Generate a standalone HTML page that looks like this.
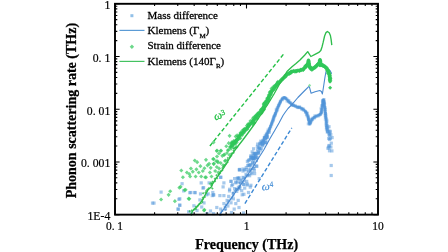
<!DOCTYPE html>
<html><head><meta charset="utf-8"><style>html,body{margin:0;padding:0;background:#fff;width:448px;height:252px;overflow:hidden}svg{display:block}</style></head>
<body><svg width="448" height="252" viewBox="0 0 448 252">
<g fill="#4e93d9" fill-opacity="0.5">
<rect x="159.5" y="190.5" width="3.2" height="3.2"/>
<rect x="152.4" y="201.5" width="3.2" height="3.2"/>
<rect x="150.9" y="201.5" width="3.2" height="3.2"/>
<rect x="177.3" y="197.7" width="3.2" height="3.2"/>
<rect x="176.5" y="207.5" width="3.2" height="3.2"/>
<rect x="178.1" y="203.6" width="3.2" height="3.2"/>
<rect x="188.2" y="191.1" width="3.2" height="3.2"/>
<rect x="193.5" y="191.1" width="3.2" height="3.2"/>
<rect x="198.9" y="192.3" width="3.2" height="3.2"/>
<rect x="201.3" y="186.4" width="3.2" height="3.2"/>
<rect x="206.6" y="192.3" width="3.2" height="3.2"/>
<rect x="212.0" y="193.5" width="3.2" height="3.2"/>
<rect x="198.3" y="198.3" width="3.2" height="3.2"/>
<rect x="202.4" y="201.3" width="3.2" height="3.2"/>
<rect x="200.1" y="205.4" width="3.2" height="3.2"/>
<rect x="192.3" y="204.2" width="3.2" height="3.2"/>
<rect x="187.0" y="210.2" width="3.2" height="3.2"/>
<rect x="205.4" y="212.0" width="3.2" height="3.2"/>
<rect x="212.0" y="212.0" width="3.2" height="3.2"/>
<rect x="180.5" y="182.1" width="3.2" height="3.2"/>
<rect x="182.1" y="189.3" width="3.2" height="3.2"/>
<rect x="189.3" y="190.9" width="3.2" height="3.2"/>
<rect x="193.2" y="190.9" width="3.2" height="3.2"/>
<rect x="199.6" y="181.3" width="3.2" height="3.2"/>
<rect x="202.0" y="186.1" width="3.2" height="3.2"/>
<rect x="207.5" y="181.3" width="3.2" height="3.2"/>
<rect x="178.2" y="197.2" width="3.2" height="3.2"/>
<rect x="178.2" y="203.6" width="3.2" height="3.2"/>
<rect x="176.6" y="207.5" width="3.2" height="3.2"/>
<rect x="210.7" y="194.0" width="3.2" height="3.2"/>
<rect x="205.1" y="193.2" width="3.2" height="3.2"/>
<rect x="190.1" y="211.5" width="3.2" height="3.2"/>
<rect x="219.1" y="175.7" width="3.2" height="3.2"/>
<rect x="222.3" y="181.3" width="3.2" height="3.2"/>
<rect x="221.5" y="185.3" width="3.2" height="3.2"/>
<rect x="229.4" y="179.7" width="3.2" height="3.2"/>
<rect x="231.0" y="182.9" width="3.2" height="3.2"/>
<rect x="234.2" y="180.5" width="3.2" height="3.2"/>
<rect x="236.6" y="176.6" width="3.2" height="3.2"/>
<rect x="239.0" y="179.0" width="3.2" height="3.2"/>
<rect x="241.4" y="175.8" width="3.2" height="3.2"/>
<rect x="238.2" y="185.3" width="3.2" height="3.2"/>
<rect x="242.1" y="182.9" width="3.2" height="3.2"/>
<rect x="235.8" y="187.7" width="3.2" height="3.2"/>
<rect x="227.9" y="189.3" width="3.2" height="3.2"/>
<rect x="211.2" y="190.9" width="3.2" height="3.2"/>
<rect x="212.0" y="193.2" width="3.2" height="3.2"/>
<rect x="218.3" y="194.0" width="3.2" height="3.2"/>
<rect x="222.3" y="194.0" width="3.2" height="3.2"/>
<rect x="227.1" y="194.8" width="3.2" height="3.2"/>
<rect x="231.8" y="197.2" width="3.2" height="3.2"/>
<rect x="240.6" y="193.2" width="3.2" height="3.2"/>
<rect x="246.9" y="190.9" width="3.2" height="3.2"/>
<rect x="229.4" y="201.2" width="3.2" height="3.2"/>
<rect x="234.2" y="202.0" width="3.2" height="3.2"/>
<rect x="236.6" y="198.8" width="3.2" height="3.2"/>
<rect x="222.3" y="202.0" width="3.2" height="3.2"/>
<rect x="215.2" y="205.9" width="3.2" height="3.2"/>
<rect x="223.9" y="206.7" width="3.2" height="3.2"/>
<rect x="226.3" y="204.4" width="3.2" height="3.2"/>
<rect x="219.1" y="207.5" width="3.2" height="3.2"/>
<rect x="232.6" y="207.5" width="3.2" height="3.2"/>
<rect x="237.4" y="205.9" width="3.2" height="3.2"/>
<rect x="249.3" y="183.7" width="3.2" height="3.2"/>
<rect x="225.5" y="198.8" width="3.2" height="3.2"/>
<rect x="249.3" y="154.3" width="3.2" height="3.2"/>
<rect x="246.9" y="159.0" width="3.2" height="3.2"/>
<rect x="246.1" y="163.8" width="3.2" height="3.2"/>
<rect x="248.5" y="163.0" width="3.2" height="3.2"/>
<rect x="238.2" y="167.8" width="3.2" height="3.2"/>
<rect x="241.4" y="169.4" width="3.2" height="3.2"/>
<rect x="244.5" y="167.8" width="3.2" height="3.2"/>
<rect x="235.8" y="176.5" width="3.2" height="3.2"/>
<rect x="219.1" y="175.7" width="3.2" height="3.2"/>
<rect x="237.6" y="168.2" width="3.2" height="3.2"/>
<rect x="241.5" y="167.4" width="3.2" height="3.2"/>
<rect x="244.7" y="165.9" width="3.2" height="3.2"/>
<rect x="247.1" y="163.5" width="3.2" height="3.2"/>
<rect x="249.5" y="154.7" width="3.2" height="3.2"/>
<rect x="251.9" y="157.9" width="3.2" height="3.2"/>
<rect x="254.2" y="151.6" width="3.2" height="3.2"/>
<rect x="256.6" y="150.0" width="3.2" height="3.2"/>
<rect x="259.0" y="148.4" width="3.2" height="3.2"/>
<rect x="251.1" y="161.1" width="3.2" height="3.2"/>
<rect x="248.7" y="167.4" width="3.2" height="3.2"/>
<rect x="249.5" y="172.2" width="3.2" height="3.2"/>
<rect x="245.5" y="173.8" width="3.2" height="3.2"/>
<rect x="242.3" y="176.2" width="3.2" height="3.2"/>
<rect x="237.6" y="176.2" width="3.2" height="3.2"/>
<rect x="236.0" y="180.1" width="3.2" height="3.2"/>
<rect x="239.2" y="181.7" width="3.2" height="3.2"/>
<rect x="245.5" y="182.5" width="3.2" height="3.2"/>
<rect x="243.1" y="186.5" width="3.2" height="3.2"/>
<rect x="236.8" y="185.7" width="3.2" height="3.2"/>
<rect x="252.7" y="169.0" width="3.2" height="3.2"/>
<rect x="255.0" y="164.3" width="3.2" height="3.2"/>
<rect x="247.6" y="158.0" width="3.2" height="3.2"/>
<rect x="249.6" y="163.6" width="3.2" height="3.2"/>
<rect x="229.9" y="210.9" width="3.2" height="3.2"/>
<rect x="241.9" y="211.4" width="3.2" height="3.2"/>
<rect x="208.9" y="209.4" width="3.2" height="3.2"/>
<rect x="195.4" y="208.9" width="3.2" height="3.2"/>
<rect x="329.6" y="163.9" width="3.2" height="3.2"/>
<rect x="329.6" y="173.9" width="3.2" height="3.2"/>
<rect x="245.8" y="159.8" width="3.2" height="3.2"/>
<rect x="248.0" y="164.1" width="3.2" height="3.2"/>
<rect x="250.8" y="161.3" width="3.2" height="3.2"/>
<rect x="252.3" y="167.0" width="3.2" height="3.2"/>
<rect x="250.1" y="171.3" width="3.2" height="3.2"/>
<rect x="247.3" y="168.4" width="3.2" height="3.2"/>
<rect x="243.0" y="168.4" width="3.2" height="3.2"/>
<rect x="238.0" y="168.4" width="3.2" height="3.2"/>
<rect x="244.4" y="172.7" width="3.2" height="3.2"/>
<rect x="248.0" y="174.1" width="3.2" height="3.2"/>
<rect x="253.0" y="172.0" width="3.2" height="3.2"/>
<rect x="255.1" y="164.8" width="3.2" height="3.2"/>
<rect x="236.5" y="177.0" width="3.2" height="3.2"/>
<rect x="233.0" y="177.0" width="3.2" height="3.2"/>
<rect x="229.4" y="179.8" width="3.2" height="3.2"/>
<rect x="234.4" y="181.3" width="3.2" height="3.2"/>
<rect x="240.1" y="178.4" width="3.2" height="3.2"/>
<rect x="245.1" y="179.8" width="3.2" height="3.2"/>
<rect x="242.3" y="182.7" width="3.2" height="3.2"/>
<rect x="245.8" y="183.4" width="3.2" height="3.2"/>
<rect x="230.1" y="184.1" width="3.2" height="3.2"/>
<rect x="228.0" y="187.7" width="3.2" height="3.2"/>
<rect x="233.0" y="187.0" width="3.2" height="3.2"/>
<rect x="238.0" y="187.0" width="3.2" height="3.2"/>
<rect x="240.1" y="189.1" width="3.2" height="3.2"/>
<rect x="235.1" y="189.8" width="3.2" height="3.2"/>
<rect x="231.5" y="192.0" width="3.2" height="3.2"/>
<rect x="242.3" y="192.7" width="3.2" height="3.2"/>
<rect x="248.7" y="185.5" width="3.2" height="3.2"/>
<rect x="257.6" y="177.0" width="3.2" height="3.2"/>
<rect x="257.2" y="151.1" width="3.2" height="3.2"/>
<rect x="249.6" y="156.2" width="3.2" height="3.2"/>
<rect x="250.7" y="156.8" width="3.2" height="3.2"/>
<rect x="258.1" y="146.9" width="3.2" height="3.2"/>
<rect x="257.6" y="146.4" width="3.2" height="3.2"/>
<rect x="250.6" y="150.3" width="3.2" height="3.2"/>
<rect x="255.8" y="144.8" width="3.2" height="3.2"/>
<rect x="252.3" y="156.4" width="3.2" height="3.2"/>
<rect x="254.0" y="155.2" width="3.2" height="3.2"/>
<rect x="264.3" y="137.8" width="3.2" height="3.2"/>
<rect x="259.1" y="142.2" width="3.2" height="3.2"/>
<rect x="252.8" y="157.0" width="3.2" height="3.2"/>
<rect x="260.0" y="140.5" width="3.2" height="3.2"/>
<rect x="258.4" y="142.9" width="3.2" height="3.2"/>
<rect x="262.7" y="136.1" width="3.2" height="3.2"/>
<rect x="256.1" y="142.5" width="3.2" height="3.2"/>
<rect x="261.0" y="142.0" width="3.2" height="3.2"/>
<rect x="249.2" y="156.2" width="3.2" height="3.2"/>
<rect x="252.2" y="154.3" width="3.2" height="3.2"/>
<rect x="261.3" y="138.8" width="3.2" height="3.2"/>
<rect x="263.5" y="136.5" width="3.2" height="3.2"/>
<rect x="258.2" y="141.7" width="3.2" height="3.2"/>
<rect x="265.5" y="135.3" width="3.2" height="3.2"/>
<rect x="263.4" y="141.2" width="3.2" height="3.2"/>
<rect x="263.9" y="140.8" width="3.2" height="3.2"/>
<rect x="252.7" y="151.9" width="3.2" height="3.2"/>
<rect x="249.5" y="158.0" width="3.2" height="3.2"/>
<rect x="255.6" y="156.0" width="3.2" height="3.2"/>
<rect x="252.5" y="156.1" width="3.2" height="3.2"/>
<rect x="265.8" y="135.5" width="3.2" height="3.2"/>
<rect x="261.6" y="142.1" width="3.2" height="3.2"/>
<rect x="263.9" y="136.3" width="3.2" height="3.2"/>
<rect x="259.7" y="146.7" width="3.2" height="3.2"/>
<rect x="253.5" y="155.1" width="3.2" height="3.2"/>
<rect x="251.5" y="152.3" width="3.2" height="3.2"/>
<rect x="256.7" y="151.3" width="3.2" height="3.2"/>
<rect x="252.0" y="147.2" width="3.2" height="3.2"/>
<rect x="259.2" y="139.6" width="3.2" height="3.2"/>
<rect x="264.6" y="141.0" width="3.2" height="3.2"/>
<rect x="264.9" y="135.8" width="3.2" height="3.2"/>
<rect x="256.0" y="148.1" width="3.2" height="3.2"/>
<rect x="261.1" y="141.4" width="3.2" height="3.2"/>
<rect x="254.7" y="153.7" width="3.2" height="3.2"/>
<rect x="252.5" y="157.0" width="3.2" height="3.2"/>
<rect x="251.7" y="155.9" width="3.2" height="3.2"/>
<rect x="263.7" y="134.3" width="3.2" height="3.2"/>
<rect x="253.3" y="152.5" width="3.2" height="3.2"/>
<rect x="256.2" y="152.0" width="3.2" height="3.2"/>
<rect x="257.1" y="145.9" width="3.2" height="3.2"/>
<rect x="251.1" y="156.4" width="3.2" height="3.2"/>
<rect x="263.8" y="136.2" width="3.2" height="3.2"/>
<rect x="264.8" y="132.6" width="3.2" height="3.2"/>
<rect x="261.2" y="144.0" width="3.2" height="3.2"/>
<rect x="267.5" y="130.6" width="3.2" height="3.2"/>
<rect x="253.8" y="151.9" width="3.2" height="3.2"/>
<rect x="327.1" y="144.5" width="3.2" height="3.2"/>
<rect x="327.5" y="133.0" width="3.2" height="3.2"/>
<rect x="328.6" y="130.2" width="3.2" height="3.2"/>
<rect x="326.3" y="146.6" width="3.2" height="3.2"/>
<rect x="329.3" y="145.4" width="3.2" height="3.2"/>
<rect x="326.3" y="130.3" width="3.2" height="3.2"/>
<rect x="328.0" y="137.9" width="3.2" height="3.2"/>
<rect x="327.4" y="125.1" width="3.2" height="3.2"/>
<rect x="327.6" y="131.7" width="3.2" height="3.2"/>
<rect x="330.3" y="149.3" width="3.2" height="3.2"/>
<rect x="330.5" y="136.0" width="3.2" height="3.2"/>
<rect x="327.9" y="149.2" width="3.2" height="3.2"/>
<rect x="328.0" y="133.9" width="3.2" height="3.2"/>
<rect x="328.2" y="129.5" width="3.2" height="3.2"/>
<rect x="326.2" y="129.7" width="3.2" height="3.2"/>
<rect x="327.4" y="146.3" width="3.2" height="3.2"/>
<rect x="327.1" y="136.9" width="3.2" height="3.2"/>
<rect x="326.0" y="126.6" width="3.2" height="3.2"/>
<rect x="329.7" y="141.6" width="3.2" height="3.2"/>
<rect x="327.7" y="143.9" width="3.2" height="3.2"/>
<rect x="328.7" y="136.8" width="3.2" height="3.2"/>
<rect x="329.2" y="133.0" width="3.2" height="3.2"/>
</g>
<polyline points="262.0,145.0 265.1,138.0 269.9,128.2 273.9,117.0 277.8,107.5 280.5,101.5 282.5,98.5 284.3,97.2 286.5,99.0 289.0,102.0 292.0,105.0 296.0,106.5 300.3,107.6 303.9,109.6 306.7,112.8 308.5,118.5 309.6,124.3 311.0,121.0 312.4,118.6 315.3,116.4 318.9,115.0 321.2,113.4 322.1,107.4 322.9,100.5 323.6,99.5 324.3,103.0 325.3,113.0 326.3,122.6 327.1,131.5" fill="none" stroke="#86b8e6" stroke-width="2.0" stroke-linejoin="round" stroke-linecap="round"/>
<g fill="#4e93d9" fill-opacity="0.34">
<rect x="261.0" y="143.6" width="2.9" height="2.9"/>
<rect x="260.8" y="143.0" width="2.9" height="2.9"/>
<rect x="261.1" y="142.2" width="2.9" height="2.9"/>
<rect x="260.6" y="142.0" width="2.9" height="2.9"/>
<rect x="261.2" y="141.2" width="2.9" height="2.9"/>
<rect x="261.3" y="140.7" width="2.9" height="2.9"/>
<rect x="262.1" y="140.1" width="2.9" height="2.9"/>
<rect x="262.0" y="139.6" width="2.9" height="2.9"/>
<rect x="262.4" y="139.8" width="2.9" height="2.9"/>
<rect x="262.2" y="138.6" width="2.9" height="2.9"/>
<rect x="263.0" y="137.2" width="2.9" height="2.9"/>
<rect x="262.7" y="137.7" width="2.9" height="2.9"/>
<rect x="263.0" y="136.9" width="2.9" height="2.9"/>
<rect x="263.6" y="136.0" width="2.9" height="2.9"/>
<rect x="263.6" y="135.7" width="2.9" height="2.9"/>
<rect x="264.8" y="135.1" width="2.9" height="2.9"/>
<rect x="265.2" y="134.1" width="2.9" height="2.9"/>
<rect x="264.8" y="134.7" width="2.9" height="2.9"/>
<rect x="265.8" y="133.4" width="2.9" height="2.9"/>
<rect x="265.5" y="133.3" width="2.9" height="2.9"/>
<rect x="265.4" y="132.6" width="2.9" height="2.9"/>
<rect x="265.9" y="132.2" width="2.9" height="2.9"/>
<rect x="265.8" y="130.9" width="2.9" height="2.9"/>
<rect x="266.6" y="130.8" width="2.9" height="2.9"/>
<rect x="266.5" y="129.9" width="2.9" height="2.9"/>
<rect x="267.4" y="130.5" width="2.9" height="2.9"/>
<rect x="267.5" y="129.3" width="2.9" height="2.9"/>
<rect x="267.8" y="128.7" width="2.9" height="2.9"/>
<rect x="266.5" y="128.4" width="2.9" height="2.9"/>
<rect x="268.1" y="127.5" width="2.9" height="2.9"/>
<rect x="267.8" y="127.4" width="2.9" height="2.9"/>
<rect x="268.4" y="126.9" width="2.9" height="2.9"/>
<rect x="268.4" y="126.6" width="2.9" height="2.9"/>
<rect x="269.4" y="125.6" width="2.9" height="2.9"/>
<rect x="269.0" y="125.0" width="2.9" height="2.9"/>
<rect x="269.0" y="124.8" width="2.9" height="2.9"/>
<rect x="269.4" y="123.8" width="2.9" height="2.9"/>
<rect x="270.4" y="123.2" width="2.9" height="2.9"/>
<rect x="270.1" y="122.6" width="2.9" height="2.9"/>
<rect x="270.1" y="122.2" width="2.9" height="2.9"/>
<rect x="270.4" y="121.2" width="2.9" height="2.9"/>
<rect x="270.8" y="121.3" width="2.9" height="2.9"/>
<rect x="271.4" y="120.0" width="2.9" height="2.9"/>
<rect x="270.9" y="120.0" width="2.9" height="2.9"/>
<rect x="271.6" y="119.0" width="2.9" height="2.9"/>
<rect x="271.3" y="118.5" width="2.9" height="2.9"/>
<rect x="272.1" y="118.3" width="2.9" height="2.9"/>
<rect x="271.6" y="117.6" width="2.9" height="2.9"/>
<rect x="272.5" y="116.8" width="2.9" height="2.9"/>
<rect x="272.2" y="116.2" width="2.9" height="2.9"/>
<rect x="272.4" y="115.7" width="2.9" height="2.9"/>
<rect x="272.8" y="114.9" width="2.9" height="2.9"/>
<rect x="272.5" y="115.1" width="2.9" height="2.9"/>
<rect x="273.3" y="114.0" width="2.9" height="2.9"/>
<rect x="273.6" y="114.0" width="2.9" height="2.9"/>
<rect x="273.5" y="113.2" width="2.9" height="2.9"/>
<rect x="273.8" y="112.6" width="2.9" height="2.9"/>
<rect x="274.0" y="112.3" width="2.9" height="2.9"/>
<rect x="273.9" y="112.0" width="2.9" height="2.9"/>
<rect x="274.3" y="111.3" width="2.9" height="2.9"/>
<rect x="274.8" y="110.6" width="2.9" height="2.9"/>
<rect x="275.2" y="109.7" width="2.9" height="2.9"/>
<rect x="275.7" y="109.2" width="2.9" height="2.9"/>
<rect x="275.1" y="108.5" width="2.9" height="2.9"/>
<rect x="274.6" y="108.2" width="2.9" height="2.9"/>
<rect x="276.3" y="107.9" width="2.9" height="2.9"/>
<rect x="275.6" y="107.1" width="2.9" height="2.9"/>
<rect x="276.4" y="106.0" width="2.9" height="2.9"/>
<rect x="275.9" y="105.8" width="2.9" height="2.9"/>
<rect x="277.1" y="105.2" width="2.9" height="2.9"/>
<rect x="277.3" y="104.2" width="2.9" height="2.9"/>
<rect x="276.9" y="103.8" width="2.9" height="2.9"/>
<rect x="277.4" y="103.7" width="2.9" height="2.9"/>
<rect x="277.8" y="103.2" width="2.9" height="2.9"/>
<rect x="277.9" y="102.2" width="2.9" height="2.9"/>
<rect x="278.3" y="102.1" width="2.9" height="2.9"/>
<rect x="278.9" y="100.7" width="2.9" height="2.9"/>
<rect x="278.5" y="100.6" width="2.9" height="2.9"/>
<rect x="279.0" y="100.6" width="2.9" height="2.9"/>
<rect x="279.0" y="99.8" width="2.9" height="2.9"/>
<rect x="279.3" y="99.4" width="2.9" height="2.9"/>
<rect x="280.9" y="98.5" width="2.9" height="2.9"/>
<rect x="280.0" y="98.2" width="2.9" height="2.9"/>
<rect x="280.9" y="97.7" width="2.9" height="2.9"/>
<rect x="280.9" y="97.3" width="2.9" height="2.9"/>
<rect x="281.0" y="97.2" width="2.9" height="2.9"/>
<rect x="281.6" y="96.5" width="2.9" height="2.9"/>
<rect x="282.3" y="96.1" width="2.9" height="2.9"/>
<rect x="282.8" y="96.0" width="2.9" height="2.9"/>
<rect x="283.2" y="96.2" width="2.9" height="2.9"/>
<rect x="284.1" y="96.5" width="2.9" height="2.9"/>
<rect x="284.3" y="97.4" width="2.9" height="2.9"/>
<rect x="284.0" y="97.1" width="2.9" height="2.9"/>
<rect x="284.8" y="97.1" width="2.9" height="2.9"/>
<rect x="285.8" y="97.8" width="2.9" height="2.9"/>
<rect x="285.4" y="99.6" width="2.9" height="2.9"/>
<rect x="286.7" y="99.5" width="2.9" height="2.9"/>
<rect x="286.6" y="99.4" width="2.9" height="2.9"/>
<rect x="287.5" y="99.2" width="2.9" height="2.9"/>
<rect x="287.0" y="99.9" width="2.9" height="2.9"/>
<rect x="287.9" y="100.6" width="2.9" height="2.9"/>
<rect x="287.8" y="101.2" width="2.9" height="2.9"/>
<rect x="289.1" y="101.1" width="2.9" height="2.9"/>
<rect x="289.4" y="101.7" width="2.9" height="2.9"/>
<rect x="290.0" y="102.2" width="2.9" height="2.9"/>
<rect x="289.9" y="102.7" width="2.9" height="2.9"/>
<rect x="290.6" y="103.5" width="2.9" height="2.9"/>
<rect x="290.8" y="103.8" width="2.9" height="2.9"/>
<rect x="291.8" y="103.5" width="2.9" height="2.9"/>
<rect x="291.7" y="103.7" width="2.9" height="2.9"/>
<rect x="292.4" y="103.9" width="2.9" height="2.9"/>
<rect x="293.9" y="104.6" width="2.9" height="2.9"/>
<rect x="293.7" y="104.3" width="2.9" height="2.9"/>
<rect x="293.7" y="104.8" width="2.9" height="2.9"/>
<rect x="295.5" y="105.4" width="2.9" height="2.9"/>
<rect x="295.5" y="105.4" width="2.9" height="2.9"/>
<rect x="296.0" y="106.1" width="2.9" height="2.9"/>
<rect x="296.8" y="106.2" width="2.9" height="2.9"/>
<rect x="297.7" y="105.7" width="2.9" height="2.9"/>
<rect x="297.5" y="106.2" width="2.9" height="2.9"/>
<rect x="298.1" y="105.4" width="2.9" height="2.9"/>
<rect x="298.5" y="105.8" width="2.9" height="2.9"/>
<rect x="299.7" y="106.6" width="2.9" height="2.9"/>
<rect x="300.0" y="107.5" width="2.9" height="2.9"/>
<rect x="300.4" y="107.6" width="2.9" height="2.9"/>
<rect x="301.2" y="107.4" width="2.9" height="2.9"/>
<rect x="301.5" y="108.3" width="2.9" height="2.9"/>
<rect x="301.9" y="107.4" width="2.9" height="2.9"/>
<rect x="302.5" y="108.8" width="2.9" height="2.9"/>
<rect x="302.6" y="108.9" width="2.9" height="2.9"/>
<rect x="304.0" y="109.8" width="2.9" height="2.9"/>
<rect x="304.1" y="110.7" width="2.9" height="2.9"/>
<rect x="304.3" y="110.1" width="2.9" height="2.9"/>
<rect x="303.9" y="110.8" width="2.9" height="2.9"/>
<rect x="305.4" y="111.0" width="2.9" height="2.9"/>
<rect x="305.3" y="111.8" width="2.9" height="2.9"/>
<rect x="305.8" y="112.0" width="2.9" height="2.9"/>
<rect x="305.5" y="112.6" width="2.9" height="2.9"/>
<rect x="304.9" y="113.1" width="2.9" height="2.9"/>
<rect x="306.5" y="114.4" width="2.9" height="2.9"/>
<rect x="305.4" y="114.4" width="2.9" height="2.9"/>
<rect x="306.3" y="114.7" width="2.9" height="2.9"/>
<rect x="307.0" y="115.3" width="2.9" height="2.9"/>
<rect x="306.8" y="116.2" width="2.9" height="2.9"/>
<rect x="306.5" y="116.7" width="2.9" height="2.9"/>
<rect x="307.0" y="117.5" width="2.9" height="2.9"/>
<rect x="307.0" y="118.2" width="2.9" height="2.9"/>
<rect x="307.3" y="118.5" width="2.9" height="2.9"/>
<rect x="307.4" y="118.3" width="2.9" height="2.9"/>
<rect x="308.2" y="120.3" width="2.9" height="2.9"/>
<rect x="307.5" y="119.4" width="2.9" height="2.9"/>
<rect x="307.7" y="121.2" width="2.9" height="2.9"/>
<rect x="306.7" y="122.4" width="2.9" height="2.9"/>
<rect x="307.7" y="121.8" width="2.9" height="2.9"/>
<rect x="307.8" y="122.8" width="2.9" height="2.9"/>
<rect x="308.5" y="122.5" width="2.9" height="2.9"/>
<rect x="308.7" y="121.7" width="2.9" height="2.9"/>
<rect x="309.1" y="121.3" width="2.9" height="2.9"/>
<rect x="309.0" y="121.3" width="2.9" height="2.9"/>
<rect x="309.4" y="120.6" width="2.9" height="2.9"/>
<rect x="310.3" y="119.5" width="2.9" height="2.9"/>
<rect x="310.0" y="118.7" width="2.9" height="2.9"/>
<rect x="310.9" y="118.2" width="2.9" height="2.9"/>
<rect x="309.8" y="117.9" width="2.9" height="2.9"/>
<rect x="311.3" y="117.8" width="2.9" height="2.9"/>
<rect x="310.4" y="117.3" width="2.9" height="2.9"/>
<rect x="311.3" y="116.5" width="2.9" height="2.9"/>
<rect x="312.8" y="116.7" width="2.9" height="2.9"/>
<rect x="312.8" y="116.3" width="2.9" height="2.9"/>
<rect x="312.7" y="115.9" width="2.9" height="2.9"/>
<rect x="313.3" y="114.2" width="2.9" height="2.9"/>
<rect x="313.8" y="115.5" width="2.9" height="2.9"/>
<rect x="314.3" y="115.2" width="2.9" height="2.9"/>
<rect x="314.8" y="114.6" width="2.9" height="2.9"/>
<rect x="315.7" y="114.5" width="2.9" height="2.9"/>
<rect x="316.5" y="113.8" width="2.9" height="2.9"/>
<rect x="316.9" y="114.7" width="2.9" height="2.9"/>
<rect x="317.7" y="113.6" width="2.9" height="2.9"/>
<rect x="317.9" y="113.5" width="2.9" height="2.9"/>
<rect x="318.6" y="113.2" width="2.9" height="2.9"/>
<rect x="319.0" y="112.8" width="2.9" height="2.9"/>
<rect x="319.2" y="112.8" width="2.9" height="2.9"/>
<rect x="320.3" y="111.5" width="2.9" height="2.9"/>
<rect x="319.5" y="111.6" width="2.9" height="2.9"/>
<rect x="319.5" y="110.7" width="2.9" height="2.9"/>
<rect x="319.9" y="110.3" width="2.9" height="2.9"/>
<rect x="319.9" y="110.6" width="2.9" height="2.9"/>
<rect x="320.5" y="109.3" width="2.9" height="2.9"/>
<rect x="319.7" y="107.8" width="2.9" height="2.9"/>
<rect x="320.4" y="108.1" width="2.9" height="2.9"/>
<rect x="320.5" y="107.6" width="2.9" height="2.9"/>
<rect x="319.6" y="106.9" width="2.9" height="2.9"/>
<rect x="321.1" y="105.3" width="2.9" height="2.9"/>
<rect x="320.8" y="105.4" width="2.9" height="2.9"/>
<rect x="320.6" y="104.0" width="2.9" height="2.9"/>
<rect x="320.3" y="104.3" width="2.9" height="2.9"/>
<rect x="321.3" y="103.6" width="2.9" height="2.9"/>
<rect x="321.7" y="102.7" width="2.9" height="2.9"/>
<rect x="321.7" y="101.5" width="2.9" height="2.9"/>
<rect x="321.1" y="102.0" width="2.9" height="2.9"/>
<rect x="321.5" y="101.6" width="2.9" height="2.9"/>
<rect x="320.9" y="99.7" width="2.9" height="2.9"/>
<rect x="321.2" y="99.4" width="2.9" height="2.9"/>
<rect x="321.5" y="99.0" width="2.9" height="2.9"/>
<rect x="321.5" y="98.8" width="2.9" height="2.9"/>
<rect x="322.0" y="98.1" width="2.9" height="2.9"/>
<rect x="322.7" y="98.0" width="2.9" height="2.9"/>
<rect x="322.2" y="99.1" width="2.9" height="2.9"/>
<rect x="322.4" y="100.0" width="2.9" height="2.9"/>
<rect x="322.5" y="99.9" width="2.9" height="2.9"/>
<rect x="323.1" y="100.9" width="2.9" height="2.9"/>
<rect x="322.4" y="101.0" width="2.9" height="2.9"/>
<rect x="323.0" y="102.4" width="2.9" height="2.9"/>
<rect x="323.3" y="102.5" width="2.9" height="2.9"/>
<rect x="322.0" y="103.3" width="2.9" height="2.9"/>
<rect x="322.5" y="103.0" width="2.9" height="2.9"/>
<rect x="322.8" y="104.3" width="2.9" height="2.9"/>
<rect x="323.2" y="105.9" width="2.9" height="2.9"/>
<rect x="323.1" y="105.1" width="2.9" height="2.9"/>
<rect x="323.8" y="106.1" width="2.9" height="2.9"/>
<rect x="323.2" y="106.3" width="2.9" height="2.9"/>
<rect x="323.4" y="107.8" width="2.9" height="2.9"/>
<rect x="323.7" y="107.7" width="2.9" height="2.9"/>
<rect x="323.9" y="108.5" width="2.9" height="2.9"/>
<rect x="323.1" y="109.3" width="2.9" height="2.9"/>
<rect x="323.9" y="110.3" width="2.9" height="2.9"/>
<rect x="323.7" y="109.8" width="2.9" height="2.9"/>
<rect x="324.1" y="111.9" width="2.9" height="2.9"/>
<rect x="323.6" y="112.1" width="2.9" height="2.9"/>
<rect x="323.9" y="112.3" width="2.9" height="2.9"/>
<rect x="324.0" y="112.3" width="2.9" height="2.9"/>
<rect x="324.5" y="113.1" width="2.9" height="2.9"/>
<rect x="324.2" y="114.1" width="2.9" height="2.9"/>
<rect x="323.6" y="114.7" width="2.9" height="2.9"/>
<rect x="324.4" y="115.0" width="2.9" height="2.9"/>
<rect x="324.1" y="115.8" width="2.9" height="2.9"/>
<rect x="324.6" y="116.2" width="2.9" height="2.9"/>
<rect x="324.5" y="116.9" width="2.9" height="2.9"/>
<rect x="323.8" y="118.0" width="2.9" height="2.9"/>
<rect x="325.0" y="117.6" width="2.9" height="2.9"/>
<rect x="325.5" y="118.6" width="2.9" height="2.9"/>
<rect x="324.5" y="119.5" width="2.9" height="2.9"/>
<rect x="325.3" y="119.6" width="2.9" height="2.9"/>
<rect x="325.4" y="120.6" width="2.9" height="2.9"/>
<rect x="324.6" y="121.3" width="2.9" height="2.9"/>
<rect x="324.8" y="121.9" width="2.9" height="2.9"/>
<rect x="325.3" y="122.2" width="2.9" height="2.9"/>
<rect x="324.4" y="123.6" width="2.9" height="2.9"/>
<rect x="325.8" y="124.2" width="2.9" height="2.9"/>
<rect x="325.2" y="124.4" width="2.9" height="2.9"/>
<rect x="325.5" y="124.0" width="2.9" height="2.9"/>
<rect x="325.1" y="125.3" width="2.9" height="2.9"/>
<rect x="324.9" y="125.9" width="2.9" height="2.9"/>
<rect x="325.6" y="126.3" width="2.9" height="2.9"/>
<rect x="324.8" y="127.7" width="2.9" height="2.9"/>
<rect x="325.8" y="127.7" width="2.9" height="2.9"/>
<rect x="325.7" y="127.6" width="2.9" height="2.9"/>
<rect x="325.6" y="128.9" width="2.9" height="2.9"/>
<rect x="326.4" y="129.8" width="2.9" height="2.9"/>
<rect x="325.6" y="130.7" width="2.9" height="2.9"/>
</g>
<polyline points="219.8,214.6 232.5,196.5 244.7,179.0 252.0,168.5 258.0,159.0 264.0,149.5 270.0,138.5 275.0,130.0 279.0,123.0 283.0,115.5 285.4,112.0 288.0,108.5 291.9,104.6 297.9,97.5 303.8,91.5 309.2,86.2 311.1,93.3 315.1,91.7 319.8,90.5 321.4,91.5 322.4,94.0 323.8,85.0 325.0,77.0 326.0,71.5 327.5,69.5 330.0,70.5 331.7,73.8" fill="none" stroke="#4a8ad0" stroke-width="1.1" stroke-linejoin="round"/>
<g fill="#3f86d0" fill-opacity="0.6">
<rect x="219.2" y="213.8" width="2.2" height="2.2"/>
<rect x="219.7" y="211.4" width="2.2" height="2.2"/>
<rect x="221.1" y="209.6" width="2.2" height="2.2"/>
<rect x="224.3" y="208.8" width="2.2" height="2.2"/>
<rect x="223.7" y="205.7" width="2.2" height="2.2"/>
<rect x="225.0" y="203.8" width="2.2" height="2.2"/>
<rect x="226.6" y="202.0" width="2.2" height="2.2"/>
<rect x="227.5" y="199.8" width="2.2" height="2.2"/>
<rect x="229.4" y="198.3" width="2.2" height="2.2"/>
<rect x="230.8" y="196.4" width="2.2" height="2.2"/>
<rect x="232.1" y="194.5" width="2.2" height="2.2"/>
<rect x="232.0" y="191.7" width="2.2" height="2.2"/>
<rect x="233.7" y="190.0" width="2.2" height="2.2"/>
<rect x="234.9" y="188.0" width="2.2" height="2.2"/>
<rect x="237.8" y="187.1" width="2.2" height="2.2"/>
<rect x="238.8" y="185.0" width="2.2" height="2.2"/>
<rect x="238.5" y="182.0" width="2.2" height="2.2"/>
<rect x="241.6" y="181.2" width="2.2" height="2.2"/>
<rect x="243.3" y="179.6" width="2.2" height="2.2"/>
<rect x="243.9" y="177.2" width="2.2" height="2.2"/>
<rect x="245.4" y="175.4" width="2.2" height="2.2"/>
<rect x="247.4" y="173.9" width="2.2" height="2.2"/>
<rect x="246.6" y="170.6" width="2.2" height="2.2"/>
<rect x="249.4" y="169.7" width="2.2" height="2.2"/>
<rect x="251.1" y="168.0" width="2.2" height="2.2"/>
<rect x="253.0" y="166.4" width="2.2" height="2.2"/>
<rect x="253.1" y="163.7" width="2.2" height="2.2"/>
<rect x="253.2" y="161.1" width="2.2" height="2.2"/>
<rect x="255.8" y="159.9" width="2.2" height="2.2"/>
<rect x="256.0" y="157.4" width="2.2" height="2.2"/>
</g>
<line x1="244.9" y1="203.6" x2="291.8" y2="127.9" stroke="#3b88d4" stroke-width="1.4" stroke-dasharray="4 2.3"/>
<g fill="#3ccc66" fill-opacity="0.75">
<path d="M170.2 189.2l2.05 2.05l-2.05 2.05l-2.05 -2.05z"/>
<path d="M168.6 192.8l2.05 2.05l-2.05 2.05l-2.05 -2.05z"/>
<path d="M161.1 197.5l2.05 2.05l-2.05 2.05l-2.05 -2.05z"/>
<path d="M174.9 199.1l2.05 2.05l-2.05 2.05l-2.05 -2.05z"/>
<path d="M179.4 185.6l2.05 2.05l-2.05 2.05l-2.05 -2.05z"/>
<path d="M181.3 168.4l2.05 2.05l-2.05 2.05l-2.05 -2.05z"/>
<path d="M182.9 175.2l2.05 2.05l-2.05 2.05l-2.05 -2.05z"/>
<path d="M186.9 170.4l2.05 2.05l-2.05 2.05l-2.05 -2.05z"/>
<path d="M189.3 172.0l2.05 2.05l-2.05 2.05l-2.05 -2.05z"/>
<path d="M190.9 166.5l2.05 2.05l-2.05 2.05l-2.05 -2.05z"/>
<path d="M192.8 169.6l2.05 2.05l-2.05 2.05l-2.05 -2.05z"/>
<path d="M194.8 158.5l2.05 2.05l-2.05 2.05l-2.05 -2.05z"/>
<path d="M197.2 160.1l2.05 2.05l-2.05 2.05l-2.05 -2.05z"/>
<path d="M198.8 170.4l2.05 2.05l-2.05 2.05l-2.05 -2.05z"/>
<path d="M196.4 167.3l2.05 2.05l-2.05 2.05l-2.05 -2.05z"/>
<path d="M200.4 164.1l2.05 2.05l-2.05 2.05l-2.05 -2.05z"/>
<path d="M202.8 168.9l2.05 2.05l-2.05 2.05l-2.05 -2.05z"/>
<path d="M204.4 166.2l2.05 2.05l-2.05 2.05l-2.05 -2.05z"/>
<path d="M206.0 157.8l2.05 2.05l-2.05 2.05l-2.05 -2.05z"/>
<path d="M207.5 163.3l2.05 2.05l-2.05 2.05l-2.05 -2.05z"/>
<path d="M209.1 161.8l2.05 2.05l-2.05 2.05l-2.05 -2.05z"/>
<path d="M210.7 165.8l2.05 2.05l-2.05 2.05l-2.05 -2.05z"/>
<path d="M213.1 156.9l2.05 2.05l-2.05 2.05l-2.05 -2.05z"/>
<path d="M213.9 161.8l2.05 2.05l-2.05 2.05l-2.05 -2.05z"/>
<path d="M209.9 170.4l2.05 2.05l-2.05 2.05l-2.05 -2.05z"/>
<path d="M201.2 174.4l2.05 2.05l-2.05 2.05l-2.05 -2.05z"/>
<path d="M205.2 175.2l2.05 2.05l-2.05 2.05l-2.05 -2.05z"/>
<path d="M211.5 174.4l2.05 2.05l-2.05 2.05l-2.05 -2.05z"/>
<path d="M190.1 174.5l2.05 2.05l-2.05 2.05l-2.05 -2.05z"/>
<path d="M195.6 174.5l2.05 2.05l-2.05 2.05l-2.05 -2.05z"/>
<path d="M206.0 175.3l2.05 2.05l-2.05 2.05l-2.05 -2.05z"/>
<path d="M180.6 184.8l2.05 2.05l-2.05 2.05l-2.05 -2.05z"/>
<path d="M184.5 188.0l2.05 2.05l-2.05 2.05l-2.05 -2.05z"/>
<path d="M189.3 196.8l2.05 2.05l-2.05 2.05l-2.05 -2.05z"/>
<path d="M204.4 207.8l2.05 2.05l-2.05 2.05l-2.05 -2.05z"/>
<path d="M210.7 181.6l2.05 2.05l-2.05 2.05l-2.05 -2.05z"/>
<path d="M188.6 196.6l2.05 2.05l-2.05 2.05l-2.05 -2.05z"/>
<path d="M185.6 187.8l2.05 2.05l-2.05 2.05l-2.05 -2.05z"/>
<path d="M204.0 208.5l2.05 2.05l-2.05 2.05l-2.05 -2.05z"/>
<path d="M213.6 140.3l2.05 2.05l-2.05 2.05l-2.05 -2.05z"/>
<path d="M216.8 149.0l2.05 2.05l-2.05 2.05l-2.05 -2.05z"/>
<path d="M220.7 149.0l2.05 2.05l-2.05 2.05l-2.05 -2.05z"/>
<path d="M223.9 153.0l2.05 2.05l-2.05 2.05l-2.05 -2.05z"/>
<path d="M227.9 148.2l2.05 2.05l-2.05 2.05l-2.05 -2.05z"/>
<path d="M229.5 153.0l2.05 2.05l-2.05 2.05l-2.05 -2.05z"/>
<path d="M232.6 142.8l2.05 2.05l-2.05 2.05l-2.05 -2.05z"/>
<path d="M235.0 140.3l2.05 2.05l-2.05 2.05l-2.05 -2.05z"/>
<path d="M231.8 140.3l2.05 2.05l-2.05 2.05l-2.05 -2.05z"/>
<path d="M236.6 145.0l2.05 2.05l-2.05 2.05l-2.05 -2.05z"/>
<path d="M231.0 146.6l2.05 2.05l-2.05 2.05l-2.05 -2.05z"/>
<path d="M213.6 156.9l2.05 2.05l-2.05 2.05l-2.05 -2.05z"/>
<path d="M217.6 159.3l2.05 2.05l-2.05 2.05l-2.05 -2.05z"/>
<path d="M213.6 161.8l2.05 2.05l-2.05 2.05l-2.05 -2.05z"/>
<path d="M216.8 164.9l2.05 2.05l-2.05 2.05l-2.05 -2.05z"/>
<path d="M220.7 160.9l2.05 2.05l-2.05 2.05l-2.05 -2.05z"/>
<path d="M225.5 158.5l2.05 2.05l-2.05 2.05l-2.05 -2.05z"/>
<path d="M219.1 166.5l2.05 2.05l-2.05 2.05l-2.05 -2.05z"/>
<path d="M215.2 168.9l2.05 2.05l-2.05 2.05l-2.05 -2.05z"/>
<path d="M218.3 170.4l2.05 2.05l-2.05 2.05l-2.05 -2.05z"/>
<path d="M222.3 153.8l2.05 2.05l-2.05 2.05l-2.05 -2.05z"/>
<path d="M226.3 144.2l2.05 2.05l-2.05 2.05l-2.05 -2.05z"/>
<path d="M228.7 141.1l2.05 2.05l-2.05 2.05l-2.05 -2.05z"/>
<path d="M223.1 163.3l2.05 2.05l-2.05 2.05l-2.05 -2.05z"/>
<path d="M235.0 140.4l2.05 2.05l-2.05 2.05l-2.05 -2.05z"/>
<path d="M232.0 140.9l2.05 2.05l-2.05 2.05l-2.05 -2.05z"/>
<path d="M236.5 138.4l2.05 2.05l-2.05 2.05l-2.05 -2.05z"/>
<path d="M233.5 145.4l2.05 2.05l-2.05 2.05l-2.05 -2.05z"/>
<path d="M228.5 147.9l2.05 2.05l-2.05 2.05l-2.05 -2.05z"/>
<path d="M221.0 148.4l2.05 2.05l-2.05 2.05l-2.05 -2.05z"/>
<path d="M217.0 148.4l2.05 2.05l-2.05 2.05l-2.05 -2.05z"/>
<path d="M224.5 152.4l2.05 2.05l-2.05 2.05l-2.05 -2.05z"/>
<path d="M227.0 150.9l2.05 2.05l-2.05 2.05l-2.05 -2.05z"/>
<path d="M219.0 151.4l2.05 2.05l-2.05 2.05l-2.05 -2.05z"/>
<path d="M217.0 154.4l2.05 2.05l-2.05 2.05l-2.05 -2.05z"/>
<path d="M225.0 158.9l2.05 2.05l-2.05 2.05l-2.05 -2.05z"/>
<path d="M216.0 158.9l2.05 2.05l-2.05 2.05l-2.05 -2.05z"/>
<path d="M218.0 160.4l2.05 2.05l-2.05 2.05l-2.05 -2.05z"/>
<path d="M229.6 133.8l2.05 2.05l-2.05 2.05l-2.05 -2.05z"/>
</g>
<g fill="#14b238" fill-opacity="0.75">
<path d="M191.3 213.5l1.25 1.25l-1.25 1.25l-1.25 -1.25z"/>
<path d="M189.6 210.0l1.25 1.25l-1.25 1.25l-1.25 -1.25z"/>
<path d="M191.7 209.2l1.25 1.25l-1.25 1.25l-1.25 -1.25z"/>
<path d="M193.9 208.5l1.25 1.25l-1.25 1.25l-1.25 -1.25z"/>
<path d="M195.9 207.7l1.25 1.25l-1.25 1.25l-1.25 -1.25z"/>
<path d="M196.0 205.4l1.25 1.25l-1.25 1.25l-1.25 -1.25z"/>
<path d="M197.8 204.5l1.25 1.25l-1.25 1.25l-1.25 -1.25z"/>
<path d="M199.1 203.1l1.25 1.25l-1.25 1.25l-1.25 -1.25z"/>
<path d="M200.8 202.0l1.25 1.25l-1.25 1.25l-1.25 -1.25z"/>
<path d="M202.4 200.8l1.25 1.25l-1.25 1.25l-1.25 -1.25z"/>
<path d="M202.4 198.5l1.25 1.25l-1.25 1.25l-1.25 -1.25z"/>
<path d="M202.8 196.5l1.25 1.25l-1.25 1.25l-1.25 -1.25z"/>
<path d="M204.8 195.7l1.25 1.25l-1.25 1.25l-1.25 -1.25z"/>
<path d="M203.1 192.0l1.25 1.25l-1.25 1.25l-1.25 -1.25z"/>
<path d="M205.5 191.5l1.25 1.25l-1.25 1.25l-1.25 -1.25z"/>
<path d="M206.2 189.7l1.25 1.25l-1.25 1.25l-1.25 -1.25z"/>
<path d="M207.4 188.2l1.25 1.25l-1.25 1.25l-1.25 -1.25z"/>
<path d="M208.9 187.0l1.25 1.25l-1.25 1.25l-1.25 -1.25z"/>
<path d="M212.4 187.3l1.25 1.25l-1.25 1.25l-1.25 -1.25z"/>
<path d="M211.6 184.5l1.25 1.25l-1.25 1.25l-1.25 -1.25z"/>
<path d="M211.6 182.2l1.25 1.25l-1.25 1.25l-1.25 -1.25z"/>
<path d="M212.5 180.5l1.25 1.25l-1.25 1.25l-1.25 -1.25z"/>
<path d="M215.0 180.0l1.25 1.25l-1.25 1.25l-1.25 -1.25z"/>
<path d="M214.9 177.6l1.25 1.25l-1.25 1.25l-1.25 -1.25z"/>
<path d="M217.1 176.9l1.25 1.25l-1.25 1.25l-1.25 -1.25z"/>
<path d="M216.5 174.1l1.25 1.25l-1.25 1.25l-1.25 -1.25z"/>
<path d="M218.6 173.3l1.25 1.25l-1.25 1.25l-1.25 -1.25z"/>
<path d="M220.0 172.0l1.25 1.25l-1.25 1.25l-1.25 -1.25z"/>
<path d="M220.5 170.0l1.25 1.25l-1.25 1.25l-1.25 -1.25z"/>
<path d="M222.3 169.1l1.25 1.25l-1.25 1.25l-1.25 -1.25z"/>
<path d="M222.4 166.7l1.25 1.25l-1.25 1.25l-1.25 -1.25z"/>
<path d="M223.6 165.3l1.25 1.25l-1.25 1.25l-1.25 -1.25z"/>
<path d="M224.6 163.7l1.25 1.25l-1.25 1.25l-1.25 -1.25z"/>
<path d="M226.1 162.5l1.25 1.25l-1.25 1.25l-1.25 -1.25z"/>
<path d="M227.5 161.1l1.25 1.25l-1.25 1.25l-1.25 -1.25z"/>
<path d="M227.5 158.8l1.25 1.25l-1.25 1.25l-1.25 -1.25z"/>
<path d="M227.9 156.8l1.25 1.25l-1.25 1.25l-1.25 -1.25z"/>
<path d="M230.0 156.0l1.25 1.25l-1.25 1.25l-1.25 -1.25z"/>
<path d="M231.3 154.6l1.25 1.25l-1.25 1.25l-1.25 -1.25z"/>
<path d="M231.3 152.2l1.25 1.25l-1.25 1.25l-1.25 -1.25z"/>
<path d="M233.6 151.6l1.25 1.25l-1.25 1.25l-1.25 -1.25z"/>
<path d="M233.6 149.2l1.25 1.25l-1.25 1.25l-1.25 -1.25z"/>
<path d="M234.2 147.3l1.25 1.25l-1.25 1.25l-1.25 -1.25z"/>
<path d="M236.0 146.3l1.25 1.25l-1.25 1.25l-1.25 -1.25z"/>
</g>
<polyline points="231.0,146.5 237.0,139.0 243.0,132.0 248.0,126.5 252.3,121.5 256.3,116.8 260.2,111.8 264.5,105.0 268.0,98.5 270.7,93.5 273.2,89.5 277.0,84.0 282.5,79.0 287.0,74.5 292.0,71.5 296.0,71.0 300.0,70.5 303.5,69.0 305.5,67.5 307.3,64.0 308.4,63.0 309.6,66.8 311.8,69.5 315.6,67.0 318.0,64.5 319.8,63.5 321.5,64.8 323.5,66.0 326.0,67.5 328.2,70.5 329.3,75.0 330.0,81.5" fill="none" stroke="#4ccd6c" stroke-width="2.6" stroke-linejoin="round" stroke-linecap="round"/>
<g fill="#30c85a" fill-opacity="0.72">
<path d="M230.5 145.1l2 2l-2 2l-2 -2z"/>
<path d="M229.9 145.1l2 2l-2 2l-2 -2z"/>
<path d="M232.3 144.0l2 2l-2 2l-2 -2z"/>
<path d="M231.9 142.9l2 2l-2 2l-2 -2z"/>
<path d="M232.4 143.1l2 2l-2 2l-2 -2z"/>
<path d="M231.4 142.5l2 2l-2 2l-2 -2z"/>
<path d="M235.2 142.1l2 2l-2 2l-2 -2z"/>
<path d="M234.0 141.9l2 2l-2 2l-2 -2z"/>
<path d="M233.8 141.8l2 2l-2 2l-2 -2z"/>
<path d="M231.7 141.3l2 2l-2 2l-2 -2z"/>
<path d="M233.1 141.1l2 2l-2 2l-2 -2z"/>
<path d="M232.7 141.0l2 2l-2 2l-2 -2z"/>
<path d="M233.6 139.1l2 2l-2 2l-2 -2z"/>
<path d="M235.8 138.9l2 2l-2 2l-2 -2z"/>
<path d="M236.7 140.4l2 2l-2 2l-2 -2z"/>
<path d="M234.9 140.0l2 2l-2 2l-2 -2z"/>
<path d="M234.3 139.6l2 2l-2 2l-2 -2z"/>
<path d="M236.2 138.9l2 2l-2 2l-2 -2z"/>
<path d="M236.2 138.4l2 2l-2 2l-2 -2z"/>
<path d="M237.7 137.0l2 2l-2 2l-2 -2z"/>
<path d="M236.2 137.9l2 2l-2 2l-2 -2z"/>
<path d="M238.5 136.9l2 2l-2 2l-2 -2z"/>
<path d="M237.6 137.9l2 2l-2 2l-2 -2z"/>
<path d="M235.6 134.4l2 2l-2 2l-2 -2z"/>
<path d="M239.1 136.3l2 2l-2 2l-2 -2z"/>
<path d="M239.3 134.2l2 2l-2 2l-2 -2z"/>
<path d="M238.9 135.0l2 2l-2 2l-2 -2z"/>
<path d="M238.7 135.1l2 2l-2 2l-2 -2z"/>
<path d="M240.4 136.2l2 2l-2 2l-2 -2z"/>
<path d="M237.1 133.3l2 2l-2 2l-2 -2z"/>
<path d="M238.1 134.8l2 2l-2 2l-2 -2z"/>
<path d="M239.2 133.6l2 2l-2 2l-2 -2z"/>
<path d="M240.9 131.3l2 2l-2 2l-2 -2z"/>
<path d="M242.0 133.3l2 2l-2 2l-2 -2z"/>
<path d="M240.4 132.0l2 2l-2 2l-2 -2z"/>
<path d="M240.9 132.3l2 2l-2 2l-2 -2z"/>
<path d="M241.9 132.2l2 2l-2 2l-2 -2z"/>
<path d="M240.5 130.7l2 2l-2 2l-2 -2z"/>
<path d="M242.3 131.0l2 2l-2 2l-2 -2z"/>
<path d="M241.7 131.5l2 2l-2 2l-2 -2z"/>
<path d="M243.2 130.8l2 2l-2 2l-2 -2z"/>
<path d="M243.7 131.1l2 2l-2 2l-2 -2z"/>
<path d="M243.0 129.4l2 2l-2 2l-2 -2z"/>
<path d="M244.7 129.6l2 2l-2 2l-2 -2z"/>
<path d="M242.4 128.5l2 2l-2 2l-2 -2z"/>
<path d="M245.0 128.7l2 2l-2 2l-2 -2z"/>
<path d="M244.3 127.5l2 2l-2 2l-2 -2z"/>
<path d="M244.8 128.4l2 2l-2 2l-2 -2z"/>
<path d="M246.3 127.3l2 2l-2 2l-2 -2z"/>
<path d="M244.6 126.8l2 2l-2 2l-2 -2z"/>
<path d="M243.9 127.5l2 2l-2 2l-2 -2z"/>
<path d="M247.4 126.4l2 2l-2 2l-2 -2z"/>
<path d="M247.2 127.2l2 2l-2 2l-2 -2z"/>
<path d="M246.9 125.8l2 2l-2 2l-2 -2z"/>
<path d="M248.2 125.0l2 2l-2 2l-2 -2z"/>
<path d="M248.0 124.4l2 2l-2 2l-2 -2z"/>
<path d="M248.8 124.2l2 2l-2 2l-2 -2z"/>
<path d="M248.2 124.5l2 2l-2 2l-2 -2z"/>
<path d="M246.8 123.7l2 2l-2 2l-2 -2z"/>
<path d="M249.1 123.5l2 2l-2 2l-2 -2z"/>
<path d="M248.2 122.8l2 2l-2 2l-2 -2z"/>
<path d="M248.6 123.0l2 2l-2 2l-2 -2z"/>
<path d="M249.3 123.5l2 2l-2 2l-2 -2z"/>
<path d="M250.4 122.1l2 2l-2 2l-2 -2z"/>
<path d="M248.1 122.0l2 2l-2 2l-2 -2z"/>
<path d="M251.3 121.5l2 2l-2 2l-2 -2z"/>
<path d="M252.8 122.4l2 2l-2 2l-2 -2z"/>
<path d="M252.5 120.7l2 2l-2 2l-2 -2z"/>
<path d="M254.0 121.1l2 2l-2 2l-2 -2z"/>
<path d="M249.8 121.2l2 2l-2 2l-2 -2z"/>
<path d="M250.4 118.9l2 2l-2 2l-2 -2z"/>
<path d="M253.5 120.5l2 2l-2 2l-2 -2z"/>
<path d="M252.8 119.8l2 2l-2 2l-2 -2z"/>
<path d="M254.2 117.6l2 2l-2 2l-2 -2z"/>
<path d="M253.6 118.9l2 2l-2 2l-2 -2z"/>
<path d="M252.4 118.6l2 2l-2 2l-2 -2z"/>
<path d="M253.4 117.9l2 2l-2 2l-2 -2z"/>
<path d="M254.2 118.5l2 2l-2 2l-2 -2z"/>
<path d="M254.7 116.9l2 2l-2 2l-2 -2z"/>
<path d="M252.9 116.2l2 2l-2 2l-2 -2z"/>
<path d="M257.3 116.6l2 2l-2 2l-2 -2z"/>
<path d="M256.5 116.6l2 2l-2 2l-2 -2z"/>
<path d="M254.0 115.3l2 2l-2 2l-2 -2z"/>
<path d="M255.5 115.9l2 2l-2 2l-2 -2z"/>
<path d="M255.1 114.5l2 2l-2 2l-2 -2z"/>
<path d="M255.8 113.8l2 2l-2 2l-2 -2z"/>
<path d="M256.6 114.2l2 2l-2 2l-2 -2z"/>
<path d="M256.1 113.2l2 2l-2 2l-2 -2z"/>
<path d="M257.6 114.6l2 2l-2 2l-2 -2z"/>
<path d="M257.9 112.3l2 2l-2 2l-2 -2z"/>
<path d="M258.5 113.4l2 2l-2 2l-2 -2z"/>
<path d="M258.7 112.5l2 2l-2 2l-2 -2z"/>
<path d="M258.0 112.1l2 2l-2 2l-2 -2z"/>
<path d="M257.5 111.9l2 2l-2 2l-2 -2z"/>
<path d="M260.7 111.5l2 2l-2 2l-2 -2z"/>
<path d="M261.1 111.4l2 2l-2 2l-2 -2z"/>
<path d="M259.9 109.6l2 2l-2 2l-2 -2z"/>
<path d="M261.3 110.4l2 2l-2 2l-2 -2z"/>
<path d="M258.1 111.0l2 2l-2 2l-2 -2z"/>
<path d="M262.0 110.4l2 2l-2 2l-2 -2z"/>
<path d="M262.7 108.9l2 2l-2 2l-2 -2z"/>
<path d="M261.3 108.1l2 2l-2 2l-2 -2z"/>
<path d="M262.6 108.1l2 2l-2 2l-2 -2z"/>
<path d="M264.0 107.4l2 2l-2 2l-2 -2z"/>
<path d="M262.8 108.5l2 2l-2 2l-2 -2z"/>
<path d="M262.4 106.9l2 2l-2 2l-2 -2z"/>
<path d="M261.0 107.6l2 2l-2 2l-2 -2z"/>
<path d="M263.8 107.5l2 2l-2 2l-2 -2z"/>
<path d="M262.4 107.1l2 2l-2 2l-2 -2z"/>
<path d="M263.8 106.1l2 2l-2 2l-2 -2z"/>
<path d="M263.9 104.8l2 2l-2 2l-2 -2z"/>
<path d="M263.3 105.5l2 2l-2 2l-2 -2z"/>
<path d="M263.6 104.4l2 2l-2 2l-2 -2z"/>
<path d="M264.2 104.3l2 2l-2 2l-2 -2z"/>
<path d="M265.9 103.1l2 2l-2 2l-2 -2z"/>
<path d="M265.0 102.8l2 2l-2 2l-2 -2z"/>
<path d="M264.8 102.4l2 2l-2 2l-2 -2z"/>
<path d="M263.6 102.1l2 2l-2 2l-2 -2z"/>
<path d="M263.9 102.7l2 2l-2 2l-2 -2z"/>
<path d="M264.2 101.2l2 2l-2 2l-2 -2z"/>
<path d="M265.9 100.9l2 2l-2 2l-2 -2z"/>
<path d="M267.0 100.6l2 2l-2 2l-2 -2z"/>
<path d="M264.7 100.8l2 2l-2 2l-2 -2z"/>
<path d="M266.0 101.5l2 2l-2 2l-2 -2z"/>
<path d="M265.7 99.2l2 2l-2 2l-2 -2z"/>
<path d="M266.7 98.4l2 2l-2 2l-2 -2z"/>
<path d="M267.5 99.4l2 2l-2 2l-2 -2z"/>
<path d="M268.7 98.5l2 2l-2 2l-2 -2z"/>
<path d="M267.3 98.6l2 2l-2 2l-2 -2z"/>
<path d="M268.7 97.3l2 2l-2 2l-2 -2z"/>
<path d="M267.3 96.6l2 2l-2 2l-2 -2z"/>
<path d="M268.2 96.6l2 2l-2 2l-2 -2z"/>
<path d="M268.9 96.8l2 2l-2 2l-2 -2z"/>
<path d="M267.4 96.0l2 2l-2 2l-2 -2z"/>
<path d="M269.0 95.2l2 2l-2 2l-2 -2z"/>
<path d="M269.0 95.7l2 2l-2 2l-2 -2z"/>
<path d="M269.1 94.5l2 2l-2 2l-2 -2z"/>
<path d="M269.0 94.3l2 2l-2 2l-2 -2z"/>
<path d="M269.1 94.0l2 2l-2 2l-2 -2z"/>
<path d="M268.7 92.9l2 2l-2 2l-2 -2z"/>
<path d="M270.3 93.6l2 2l-2 2l-2 -2z"/>
<path d="M269.7 92.5l2 2l-2 2l-2 -2z"/>
<path d="M271.0 91.9l2 2l-2 2l-2 -2z"/>
<path d="M270.8 91.9l2 2l-2 2l-2 -2z"/>
<path d="M269.7 90.4l2 2l-2 2l-2 -2z"/>
<path d="M271.3 90.3l2 2l-2 2l-2 -2z"/>
<path d="M271.3 90.6l2 2l-2 2l-2 -2z"/>
<path d="M270.9 89.5l2 2l-2 2l-2 -2z"/>
<path d="M271.1 90.3l2 2l-2 2l-2 -2z"/>
<path d="M270.1 89.7l2 2l-2 2l-2 -2z"/>
<path d="M272.2 88.5l2 2l-2 2l-2 -2z"/>
<path d="M272.8 88.4l2 2l-2 2l-2 -2z"/>
<path d="M271.9 88.0l2 2l-2 2l-2 -2z"/>
<path d="M273.1 87.9l2 2l-2 2l-2 -2z"/>
<path d="M273.3 87.3l2 2l-2 2l-2 -2z"/>
<path d="M271.5 86.6l2 2l-2 2l-2 -2z"/>
<path d="M274.2 86.9l2 2l-2 2l-2 -2z"/>
<path d="M273.3 85.8l2 2l-2 2l-2 -2z"/>
<path d="M273.3 85.1l2 2l-2 2l-2 -2z"/>
<path d="M275.0 85.9l2 2l-2 2l-2 -2z"/>
<path d="M274.8 85.2l2 2l-2 2l-2 -2z"/>
<path d="M276.4 84.1l2 2l-2 2l-2 -2z"/>
<path d="M275.4 84.2l2 2l-2 2l-2 -2z"/>
<path d="M276.5 83.2l2 2l-2 2l-2 -2z"/>
<path d="M274.5 83.7l2 2l-2 2l-2 -2z"/>
<path d="M275.6 83.3l2 2l-2 2l-2 -2z"/>
<path d="M276.8 82.9l2 2l-2 2l-2 -2z"/>
<path d="M277.2 82.5l2 2l-2 2l-2 -2z"/>
<path d="M277.0 81.5l2 2l-2 2l-2 -2z"/>
<path d="M277.8 81.3l2 2l-2 2l-2 -2z"/>
<path d="M277.6 81.8l2 2l-2 2l-2 -2z"/>
<path d="M277.1 81.3l2 2l-2 2l-2 -2z"/>
<path d="M277.9 80.7l2 2l-2 2l-2 -2z"/>
<path d="M277.8 79.8l2 2l-2 2l-2 -2z"/>
<path d="M279.3 80.8l2 2l-2 2l-2 -2z"/>
<path d="M279.8 79.9l2 2l-2 2l-2 -2z"/>
<path d="M279.8 80.1l2 2l-2 2l-2 -2z"/>
<path d="M280.9 79.0l2 2l-2 2l-2 -2z"/>
<path d="M279.9 79.5l2 2l-2 2l-2 -2z"/>
<path d="M280.6 78.8l2 2l-2 2l-2 -2z"/>
<path d="M281.8 78.0l2 2l-2 2l-2 -2z"/>
<path d="M281.2 77.5l2 2l-2 2l-2 -2z"/>
<path d="M282.4 77.6l2 2l-2 2l-2 -2z"/>
<path d="M282.6 76.9l2 2l-2 2l-2 -2z"/>
<path d="M282.8 76.7l2 2l-2 2l-2 -2z"/>
<path d="M282.7 76.3l2 2l-2 2l-2 -2z"/>
<path d="M283.0 76.6l2 2l-2 2l-2 -2z"/>
<path d="M283.3 75.9l2 2l-2 2l-2 -2z"/>
<path d="M284.0 75.6l2 2l-2 2l-2 -2z"/>
<path d="M284.4 75.4l2 2l-2 2l-2 -2z"/>
<path d="M284.9 74.9l2 2l-2 2l-2 -2z"/>
<path d="M284.9 74.8l2 2l-2 2l-2 -2z"/>
<path d="M285.9 74.5l2 2l-2 2l-2 -2z"/>
<path d="M284.9 73.7l2 2l-2 2l-2 -2z"/>
<path d="M285.7 73.6l2 2l-2 2l-2 -2z"/>
<path d="M285.6 73.2l2 2l-2 2l-2 -2z"/>
<path d="M286.8 72.5l2 2l-2 2l-2 -2z"/>
<path d="M286.9 72.7l2 2l-2 2l-2 -2z"/>
<path d="M287.9 71.9l2 2l-2 2l-2 -2z"/>
<path d="M287.7 72.2l2 2l-2 2l-2 -2z"/>
<path d="M287.9 72.1l2 2l-2 2l-2 -2z"/>
<path d="M289.3 71.9l2 2l-2 2l-2 -2z"/>
<path d="M289.0 71.1l2 2l-2 2l-2 -2z"/>
<path d="M289.4 70.8l2 2l-2 2l-2 -2z"/>
<path d="M289.4 71.2l2 2l-2 2l-2 -2z"/>
<path d="M290.6 71.1l2 2l-2 2l-2 -2z"/>
<path d="M290.4 70.8l2 2l-2 2l-2 -2z"/>
<path d="M290.6 70.3l2 2l-2 2l-2 -2z"/>
<path d="M291.0 70.3l2 2l-2 2l-2 -2z"/>
<path d="M291.3 69.5l2 2l-2 2l-2 -2z"/>
<path d="M291.2 70.4l2 2l-2 2l-2 -2z"/>
<path d="M291.2 69.4l2 2l-2 2l-2 -2z"/>
<path d="M292.6 69.4l2 2l-2 2l-2 -2z"/>
<path d="M292.7 69.5l2 2l-2 2l-2 -2z"/>
<path d="M293.7 69.0l2 2l-2 2l-2 -2z"/>
<path d="M293.9 68.8l2 2l-2 2l-2 -2z"/>
<path d="M294.8 69.8l2 2l-2 2l-2 -2z"/>
<path d="M295.9 69.4l2 2l-2 2l-2 -2z"/>
<path d="M295.5 69.1l2 2l-2 2l-2 -2z"/>
<path d="M296.2 69.5l2 2l-2 2l-2 -2z"/>
<path d="M296.5 68.9l2 2l-2 2l-2 -2z"/>
<path d="M296.2 68.9l2 2l-2 2l-2 -2z"/>
<path d="M297.4 68.6l2 2l-2 2l-2 -2z"/>
<path d="M297.3 68.8l2 2l-2 2l-2 -2z"/>
<path d="M298.5 68.5l2 2l-2 2l-2 -2z"/>
<path d="M299.1 68.6l2 2l-2 2l-2 -2z"/>
<path d="M299.4 69.1l2 2l-2 2l-2 -2z"/>
<path d="M299.4 68.5l2 2l-2 2l-2 -2z"/>
<path d="M299.9 68.4l2 2l-2 2l-2 -2z"/>
<path d="M300.7 67.8l2 2l-2 2l-2 -2z"/>
<path d="M301.1 67.6l2 2l-2 2l-2 -2z"/>
<path d="M301.0 68.2l2 2l-2 2l-2 -2z"/>
<path d="M300.9 68.2l2 2l-2 2l-2 -2z"/>
<path d="M303.2 67.9l2 2l-2 2l-2 -2z"/>
<path d="M303.0 67.4l2 2l-2 2l-2 -2z"/>
<path d="M303.0 67.9l2 2l-2 2l-2 -2z"/>
<path d="M303.0 67.0l2 2l-2 2l-2 -2z"/>
<path d="M304.2 66.6l2 2l-2 2l-2 -2z"/>
<path d="M303.6 66.5l2 2l-2 2l-2 -2z"/>
<path d="M304.6 65.6l2 2l-2 2l-2 -2z"/>
<path d="M304.7 65.6l2 2l-2 2l-2 -2z"/>
<path d="M305.2 65.8l2 2l-2 2l-2 -2z"/>
<path d="M306.1 64.8l2 2l-2 2l-2 -2z"/>
<path d="M305.8 64.6l2 2l-2 2l-2 -2z"/>
<path d="M305.2 64.6l2 2l-2 2l-2 -2z"/>
<path d="M306.0 63.9l2 2l-2 2l-2 -2z"/>
<path d="M305.4 63.8l2 2l-2 2l-2 -2z"/>
<path d="M306.7 63.4l2 2l-2 2l-2 -2z"/>
<path d="M306.6 63.3l2 2l-2 2l-2 -2z"/>
<path d="M307.3 62.2l2 2l-2 2l-2 -2z"/>
<path d="M307.6 62.2l2 2l-2 2l-2 -2z"/>
<path d="M307.4 62.0l2 2l-2 2l-2 -2z"/>
<path d="M308.3 61.6l2 2l-2 2l-2 -2z"/>
<path d="M308.9 61.9l2 2l-2 2l-2 -2z"/>
<path d="M308.5 61.3l2 2l-2 2l-2 -2z"/>
<path d="M308.9 61.8l2 2l-2 2l-2 -2z"/>
<path d="M307.6 62.9l2 2l-2 2l-2 -2z"/>
<path d="M309.2 62.2l2 2l-2 2l-2 -2z"/>
<path d="M308.8 63.3l2 2l-2 2l-2 -2z"/>
<path d="M309.1 63.5l2 2l-2 2l-2 -2z"/>
<path d="M309.5 64.4l2 2l-2 2l-2 -2z"/>
<path d="M310.0 64.6l2 2l-2 2l-2 -2z"/>
<path d="M309.9 64.4l2 2l-2 2l-2 -2z"/>
<path d="M309.2 65.3l2 2l-2 2l-2 -2z"/>
<path d="M310.0 65.7l2 2l-2 2l-2 -2z"/>
<path d="M310.1 65.8l2 2l-2 2l-2 -2z"/>
<path d="M310.8 65.6l2 2l-2 2l-2 -2z"/>
<path d="M310.5 66.9l2 2l-2 2l-2 -2z"/>
<path d="M311.4 66.7l2 2l-2 2l-2 -2z"/>
<path d="M311.9 68.0l2 2l-2 2l-2 -2z"/>
<path d="M312.8 66.9l2 2l-2 2l-2 -2z"/>
<path d="M312.2 66.4l2 2l-2 2l-2 -2z"/>
<path d="M312.5 66.4l2 2l-2 2l-2 -2z"/>
<path d="M312.8 66.6l2 2l-2 2l-2 -2z"/>
<path d="M313.5 66.2l2 2l-2 2l-2 -2z"/>
<path d="M313.2 66.3l2 2l-2 2l-2 -2z"/>
<path d="M314.3 65.3l2 2l-2 2l-2 -2z"/>
<path d="M314.8 65.9l2 2l-2 2l-2 -2z"/>
<path d="M314.5 65.4l2 2l-2 2l-2 -2z"/>
<path d="M314.9 65.3l2 2l-2 2l-2 -2z"/>
<path d="M316.2 64.6l2 2l-2 2l-2 -2z"/>
<path d="M315.7 63.9l2 2l-2 2l-2 -2z"/>
<path d="M316.1 64.2l2 2l-2 2l-2 -2z"/>
<path d="M317.0 63.7l2 2l-2 2l-2 -2z"/>
<path d="M316.9 63.3l2 2l-2 2l-2 -2z"/>
<path d="M317.8 62.2l2 2l-2 2l-2 -2z"/>
<path d="M317.6 62.6l2 2l-2 2l-2 -2z"/>
<path d="M317.6 62.2l2 2l-2 2l-2 -2z"/>
<path d="M318.5 61.8l2 2l-2 2l-2 -2z"/>
<path d="M318.4 61.5l2 2l-2 2l-2 -2z"/>
<path d="M318.9 61.7l2 2l-2 2l-2 -2z"/>
<path d="M320.2 61.4l2 2l-2 2l-2 -2z"/>
<path d="M320.0 61.5l2 2l-2 2l-2 -2z"/>
<path d="M320.6 61.9l2 2l-2 2l-2 -2z"/>
<path d="M321.4 62.3l2 2l-2 2l-2 -2z"/>
<path d="M321.7 62.7l2 2l-2 2l-2 -2z"/>
<path d="M321.6 62.9l2 2l-2 2l-2 -2z"/>
<path d="M321.6 63.3l2 2l-2 2l-2 -2z"/>
<path d="M322.3 63.1l2 2l-2 2l-2 -2z"/>
<path d="M322.8 63.9l2 2l-2 2l-2 -2z"/>
<path d="M323.2 63.1l2 2l-2 2l-2 -2z"/>
<path d="M323.3 64.1l2 2l-2 2l-2 -2z"/>
<path d="M324.2 64.0l2 2l-2 2l-2 -2z"/>
<path d="M324.5 64.7l2 2l-2 2l-2 -2z"/>
<path d="M325.0 64.2l2 2l-2 2l-2 -2z"/>
<path d="M324.8 64.8l2 2l-2 2l-2 -2z"/>
<path d="M325.3 65.2l2 2l-2 2l-2 -2z"/>
<path d="M326.5 65.5l2 2l-2 2l-2 -2z"/>
<path d="M325.7 65.5l2 2l-2 2l-2 -2z"/>
<path d="M326.8 66.0l2 2l-2 2l-2 -2z"/>
<path d="M326.7 67.1l2 2l-2 2l-2 -2z"/>
<path d="M327.9 67.5l2 2l-2 2l-2 -2z"/>
<path d="M326.7 67.9l2 2l-2 2l-2 -2z"/>
<path d="M327.6 68.1l2 2l-2 2l-2 -2z"/>
<path d="M327.9 68.5l2 2l-2 2l-2 -2z"/>
<path d="M328.2 68.6l2 2l-2 2l-2 -2z"/>
<path d="M328.2 68.7l2 2l-2 2l-2 -2z"/>
<path d="M328.4 69.7l2 2l-2 2l-2 -2z"/>
<path d="M328.0 69.9l2 2l-2 2l-2 -2z"/>
<path d="M328.1 70.0l2 2l-2 2l-2 -2z"/>
<path d="M327.9 71.4l2 2l-2 2l-2 -2z"/>
<path d="M329.0 71.2l2 2l-2 2l-2 -2z"/>
<path d="M329.5 71.1l2 2l-2 2l-2 -2z"/>
<path d="M329.2 72.0l2 2l-2 2l-2 -2z"/>
<path d="M329.6 72.2l2 2l-2 2l-2 -2z"/>
<path d="M329.4 73.1l2 2l-2 2l-2 -2z"/>
<path d="M330.1 73.4l2 2l-2 2l-2 -2z"/>
<path d="M329.4 74.1l2 2l-2 2l-2 -2z"/>
<path d="M329.7 74.6l2 2l-2 2l-2 -2z"/>
<path d="M329.6 74.6l2 2l-2 2l-2 -2z"/>
<path d="M330.2 75.9l2 2l-2 2l-2 -2z"/>
<path d="M329.7 75.6l2 2l-2 2l-2 -2z"/>
<path d="M330.2 76.0l2 2l-2 2l-2 -2z"/>
<path d="M329.9 76.3l2 2l-2 2l-2 -2z"/>
<path d="M330.5 76.8l2 2l-2 2l-2 -2z"/>
<path d="M330.0 77.5l2 2l-2 2l-2 -2z"/>
<path d="M329.6 77.7l2 2l-2 2l-2 -2z"/>
<path d="M329.9 78.2l2 2l-2 2l-2 -2z"/>
<path d="M330.5 78.8l2 2l-2 2l-2 -2z"/>
<path d="M330.0 79.7l2 2l-2 2l-2 -2z"/>
</g>
<ellipse cx="308.5" cy="63" rx="2.2" ry="4.6" fill="#30c85a"/>
<ellipse cx="320" cy="62.6" rx="2.3" ry="4.6" fill="#30c85a"/>
<polyline points="191.0,214.6 192.7,210.8 194.9,208.6 197.1,206.9 198.8,204.7 201.0,201.9 203.2,199.1 204.3,196.3 206.0,193.6 208.3,189.5 211.3,187.0 212.5,184.0 214.9,180.5 216.1,178.1 217.9,176.3 219.6,173.3 222.0,170.4 224.4,166.8 228.0,161.0 231.4,155.0 236.5,148.0 242.8,140.0 249.5,131.0 256.0,122.0 262.0,113.0 268.0,104.0 274.0,94.0 279.0,85.0 283.5,77.5 287.0,71.5 292.0,66.8 296.0,63.5 300.0,60.0 304.6,55.2 307.7,51.6 310.9,56.5 315.0,54.4 318.8,52.4 320.8,50.5 322.0,47.0 323.2,42.2 324.6,36.0 326.0,32.6 327.4,31.5 329.2,32.8 330.4,35.5 331.1,39.4 331.8,45.2" fill="none" stroke="#2ebd4c" stroke-width="1.35" stroke-linejoin="round"/>
<line x1="209.9" y1="146" x2="284.5" y2="53" stroke="#22c044" stroke-width="1.4" stroke-dasharray="4 2.3"/>
<path d="M309.6 83.8l1.6 1.6l-1.6 1.6l-1.6 -1.6z" fill="#8fe2a6"/>
<path d="M330.1 85.8l2 2l-2 2l-2 -2z" fill="#3ccb62"/>
<text transform="translate(215.3 120.6) rotate(-20)" font-family="Liberation Serif" font-style="italic" font-size="11.5" fill="#22c044" stroke="#22c044" stroke-width="0.25">ω<tspan font-size="7.8" dy="-2.6" font-style="normal">3</tspan></text>
<text transform="translate(262 190.4) rotate(-6)" font-family="Liberation Serif" font-style="italic" font-size="11.5" fill="#3b88d4" stroke="#3b88d4" stroke-width="0.1">ω<tspan font-size="7.8" dy="-2.6" font-style="normal">4</tspan></text>
<path d="M115.00 214.65L115.00 210.05M115.00 3.80L115.00 8.40M154.59 214.65L154.59 212.35M154.59 3.80L154.59 6.10M177.74 214.65L177.74 212.35M177.74 3.80L177.74 6.10M194.17 214.65L194.17 212.35M194.17 3.80L194.17 6.10M206.91 214.65L206.91 212.35M206.91 3.80L206.91 6.10M217.33 214.65L217.33 212.35M217.33 3.80L217.33 6.10M226.13 214.65L226.13 212.35M226.13 3.80L226.13 6.10M233.76 214.65L233.76 212.35M233.76 3.80L233.76 6.10M240.48 214.65L240.48 212.35M240.48 3.80L240.48 6.10M246.50 214.65L246.50 210.05M246.50 3.80L246.50 8.40M286.09 214.65L286.09 212.35M286.09 3.80L286.09 6.10M309.24 214.65L309.24 212.35M309.24 3.80L309.24 6.10M325.67 214.65L325.67 212.35M325.67 3.80L325.67 6.10M338.41 214.65L338.41 212.35M338.41 3.80L338.41 6.10M348.83 214.65L348.83 212.35M348.83 3.80L348.83 6.10M357.63 214.65L357.63 212.35M357.63 3.80L357.63 6.10M365.26 214.65L365.26 212.35M365.26 3.80L365.26 6.10M371.98 214.65L371.98 212.35M371.98 3.80L371.98 6.10M378.00 214.65L378.00 210.05M378.00 3.80L378.00 8.40M115.00 214.64L119.60 214.64M378.00 214.64L373.40 214.64M115.00 198.77L117.30 198.77M378.00 198.77L375.70 198.77M115.00 189.49L117.30 189.49M378.00 189.49L375.70 189.49M115.00 182.91L117.30 182.91M378.00 182.91L375.70 182.91M115.00 177.80L117.30 177.80M378.00 177.80L375.70 177.80M115.00 173.62L117.30 173.62M378.00 173.62L375.70 173.62M115.00 170.09L117.30 170.09M378.00 170.09L375.70 170.09M115.00 167.04L117.30 167.04M378.00 167.04L375.70 167.04M115.00 164.34L117.30 164.34M378.00 164.34L375.70 164.34M115.00 161.93L119.60 161.93M378.00 161.93L373.40 161.93M115.00 146.06L117.30 146.06M378.00 146.06L375.70 146.06M115.00 136.78L117.30 136.78M378.00 136.78L375.70 136.78M115.00 130.20L117.30 130.20M378.00 130.20L375.70 130.20M115.00 125.09L117.30 125.09M378.00 125.09L375.70 125.09M115.00 120.91L117.30 120.91M378.00 120.91L375.70 120.91M115.00 117.38L117.30 117.38M378.00 117.38L375.70 117.38M115.00 114.33L117.30 114.33M378.00 114.33L375.70 114.33M115.00 111.63L117.30 111.63M378.00 111.63L375.70 111.63M115.00 109.22L119.60 109.22M378.00 109.22L373.40 109.22M115.00 93.35L117.30 93.35M378.00 93.35L375.70 93.35M115.00 84.07L117.30 84.07M378.00 84.07L375.70 84.07M115.00 77.49L117.30 77.49M378.00 77.49L375.70 77.49M115.00 72.38L117.30 72.38M378.00 72.38L375.70 72.38M115.00 68.20L117.30 68.20M378.00 68.20L375.70 68.20M115.00 64.67L117.30 64.67M378.00 64.67L375.70 64.67M115.00 61.62L117.30 61.62M378.00 61.62L375.70 61.62M115.00 58.92L117.30 58.92M378.00 58.92L375.70 58.92M115.00 56.51L119.60 56.51M378.00 56.51L373.40 56.51M115.00 40.64L117.30 40.64M378.00 40.64L375.70 40.64M115.00 31.36L117.30 31.36M378.00 31.36L375.70 31.36M115.00 24.78L117.30 24.78M378.00 24.78L375.70 24.78M115.00 19.67L117.30 19.67M378.00 19.67L375.70 19.67M115.00 15.49L117.30 15.49M378.00 15.49L375.70 15.49M115.00 11.96L117.30 11.96M378.00 11.96L375.70 11.96M115.00 8.91L117.30 8.91M378.00 8.91L375.70 8.91M115.00 6.21L117.30 6.21M378.00 6.21L375.70 6.21M115.00 3.80L119.60 3.80M378.00 3.80L373.40 3.80" stroke="#000" stroke-width="1.1" fill="none"/>
<rect x="115" y="3.8" width="263" height="210.85" fill="none" stroke="#000" stroke-width="1.9"/>
<text transform="translate(110.3 9.20) scale(0.94 1)" text-anchor="end" font-family="Liberation Serif" font-size="12.5" stroke="#000" stroke-width="0.2">1</text>
<text transform="translate(110.3 61.91) scale(0.94 1)" text-anchor="end" font-family="Liberation Serif" font-size="12.5" stroke="#000" stroke-width="0.2">0. 1</text>
<text transform="translate(110.3 114.62) scale(0.94 1)" text-anchor="end" font-family="Liberation Serif" font-size="12.5" stroke="#000" stroke-width="0.2">0. 01</text>
<text transform="translate(110.3 167.33) scale(0.94 1)" text-anchor="end" font-family="Liberation Serif" font-size="12.5" stroke="#000" stroke-width="0.2">0. 001</text>
<text transform="translate(110.3 220.04) scale(0.94 1)" text-anchor="end" font-family="Liberation Serif" font-size="12.5" stroke="#000" stroke-width="0.2">1E-4</text>
<text transform="translate(114.50 230.3) scale(0.92 1)" text-anchor="middle" font-family="Liberation Serif" font-size="12.5" stroke="#000" stroke-width="0.2">0. 1</text>
<text transform="translate(246.50 230.3) scale(0.92 1)" text-anchor="middle" font-family="Liberation Serif" font-size="12.5" stroke="#000" stroke-width="0.2">1</text>
<text transform="translate(378.00 230.3) scale(0.92 1)" text-anchor="middle" font-family="Liberation Serif" font-size="12.5" stroke="#000" stroke-width="0.2">10</text>
<text x="246.7" y="248.6" text-anchor="middle" font-family="Liberation Serif" font-weight="bold" font-size="14" stroke="#000" stroke-width="0.25">Frequency (THz)</text>
<text transform="translate(75.5 110.6) rotate(-90)" text-anchor="middle" font-family="Liberation Serif" font-weight="bold" font-size="14" stroke="#000" stroke-width="0.25">Phonon scattering rate (THz)</text>
<rect x="130.4" y="14.2" width="3" height="3" fill="#92c0e8"/>
<text x="147.5" y="19.4" font-family="Liberation Serif" font-size="11" stroke="#000" stroke-width="0.28">Mass difference</text>
<line x1="119.4" y1="30.4" x2="144.5" y2="30.4" stroke="#5b9bd5" stroke-width="1.2"/>
<text x="147.5" y="34.4" font-family="Liberation Serif" font-size="11" stroke="#000" stroke-width="0.28">Klemens (Γ<tspan font-size="7" dy="3.4">M</tspan><tspan dy="-3.4">)</tspan></text>
<path d="M131.9 44.6L134.1 46.8L131.9 49L129.7 46.8Z" fill="#6cd88a"/>
<text x="147.5" y="49.4" font-family="Liberation Serif" font-size="11" stroke="#000" stroke-width="0.28">Strain difference</text>
<line x1="119.4" y1="61.4" x2="144.5" y2="61.4" stroke="#44c261" stroke-width="1.2"/>
<text x="147.5" y="64.9" font-family="Liberation Serif" font-size="11" stroke="#000" stroke-width="0.28">Klemens (140Γ<tspan font-size="7" dy="3.4">R</tspan><tspan dy="-3.4">)</tspan></text>
</svg></body></html>
